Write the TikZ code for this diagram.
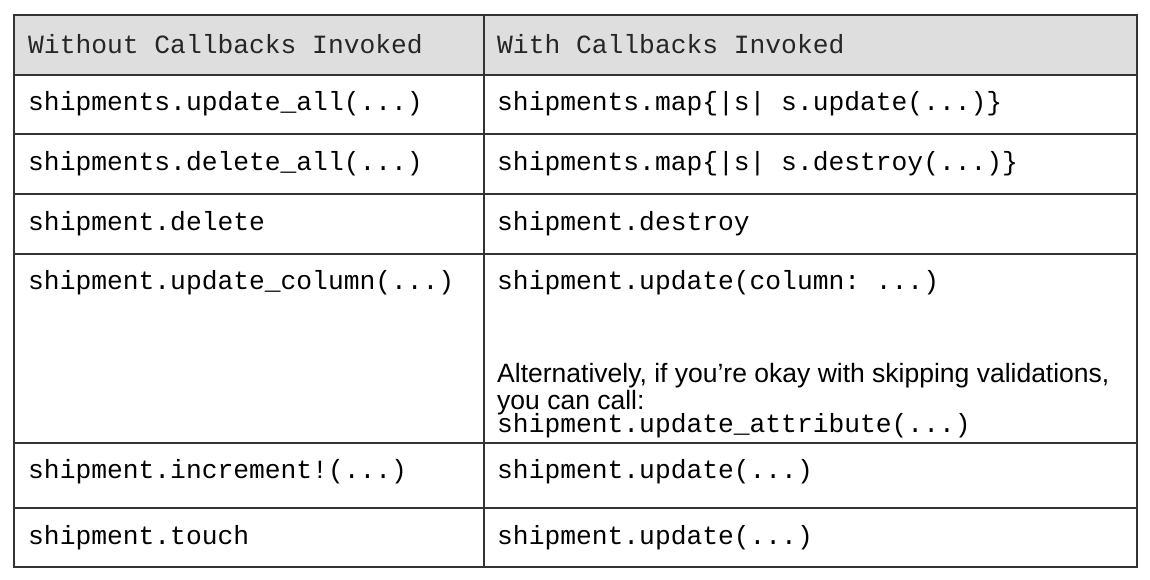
\documentclass[tikz,border=0pt]{standalone}
\usepackage{fontspec}
\setmainfont{Liberation Sans}
\setmonofont{Liberation Mono}
\newfontfamily\notefont[FakeStretch=1.0]{Liberation Sans}
\tikzset{
  cell/.style={anchor=west, inner sep=0pt, font=\fontsize{26.3}{30}\selectfont\ttfamily},
  hcell/.style={cell, text=black!85},
  note/.style={anchor=base west, inner sep=0pt, font=\fontsize{26.5}{28}\selectfont\notefont},
  rule/.style={line width=1.3pt, black!80}
}
\begin{document}
\begin{tikzpicture}[x=1pt,y=-1pt]
  \useasboundingbox (0,0) rectangle (1150,580);
  % header band
  \fill[black!13] (14,15) rectangle (1137,75);
  % grid
  \draw[rule] (14,15) rectangle (1137,567);
  \draw[rule] (484,15) -- (484,567);
  \foreach \y in {75,134,194,254,443,508}
    \draw[rule] (14,\y) -- (1137,\y);
  % left column
  \node[hcell] (hleft) at (28,44) {Without Callbacks Invoked};
  \node[cell] (l1) at (28,104) {shipments.update\_all(...)};
  \node[cell] (l2) at (28,164) {shipments.delete\_all(...)};
  \node[cell] (l3) at (28,224) {shipment.delete};
  \node[cell] (l4) at (28,283) {shipment.update\_column(...)};
  \node[cell] (l5) at (28,472) {shipment.increment!(...)};
  \node[cell] (l6) at (28,538) {shipment.touch};
  % right column
  \node[hcell] (hright) at (497,44) {With Callbacks Invoked};
  \node[cell] (r1) at (497,104) {shipments.map\{|s| s.update(...)\}};
  \node[cell] (r2) at (497,164) {shipments.map\{|s| s.destroy(...)\}};
  \node[cell] (r3) at (497,224) {shipment.destroy};
  \node[cell] (r4) at (497,283) {shipment.update(column: ...)};
  \node[note] (r4note) at (497,382) {Alternatively, if you’re okay with skipping validations,};
  \node[note] (r4call) at (497,409) {you can call:};
  \node[cell] (r4alt) at (497,426) {shipment.update\_attribute(...)};
  \node[cell] (r5) at (497,472) {shipment.update(...)};
  \node[cell] (r6) at (497,538) {shipment.update(...)};
\end{tikzpicture}
\end{document}
